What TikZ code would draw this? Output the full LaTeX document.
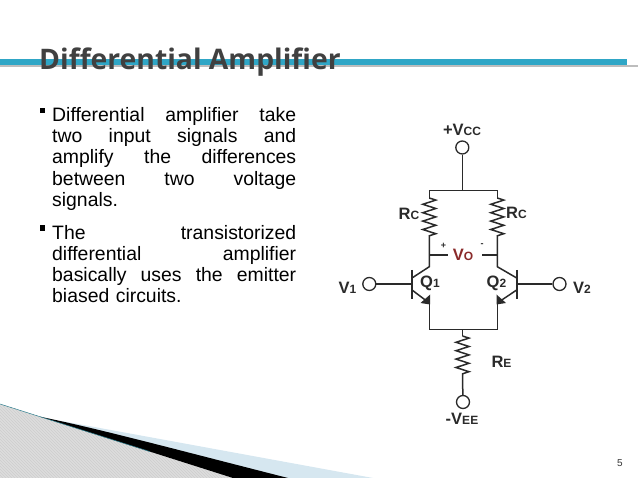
\documentclass[tikz,border=0pt]{standalone}
\usepackage{fontspec}
\setmainfont{Liberation Sans}
\newfontfamily\titlefont{Open Sans}
\usetikzlibrary{decorations.pathmorphing,patterns}
\definecolor{barblue}{HTML}{2FA6C6}
\definecolor{bargrey}{HTML}{BDBDBD}
\definecolor{titlegrey}{HTML}{404040}
\definecolor{paleblue}{HTML}{D6E7F0}
\definecolor{hatchgrey}{HTML}{DDDDDD}
\definecolor{hatchline}{HTML}{CECECE}
\definecolor{tealline}{HTML}{2F7F8F}
\definecolor{vored}{HTML}{8A2A2A}
\definecolor{wire}{HTML}{2A2A2A}
\newcommand{\jline}[1]{\hbox to 244pt{#1}\par}
\newcommand{\subsz}{\fontsize{12}{12}\selectfont}
\tikzset{
  cw/.style={line width=1.5pt,draw=wire},
  term/.style={circle,draw=wire,line width=1.3pt,fill=white,minimum size=13pt,inner sep=0pt},
  res/.style={cw,decorate,decoration={zigzag,segment length=8.4pt,amplitude=6.5pt}},
  lab/.style={font=\bfseries\fontsize{16.5}{17}\selectfont,text=wire,inner sep=0pt,anchor=center},
  bodytext/.style={font=\fontsize{19.4}{21.1}\selectfont,align=left,text width=244pt,inner sep=0pt,anchor=north west},
  bullet/.style={inner sep=0pt,anchor=center}
}
\begin{document}
\begin{tikzpicture}[x=1pt,y=-1pt]
\useasboundingbox (0,0) rectangle (638,478);
% footer
\fill[paleblue] (60,420.7) -- (373,478) -- (233,478) -- cycle;
\fill[hatchgrey] (0,404) -- (233,478) -- (0,478) -- cycle;
\fill[pattern=north west lines,pattern color=hatchline] (0,404) -- (233,478) -- (0,478) -- cycle;
\fill[black] (40,416.7) .. controls (100,429) and (170,448) .. (288,478) -- (233,478) -- cycle;
\draw[tealline,line width=0.5pt] (0,404) -- (150,451.6);
% title bar
\fill[bargrey] (0,65.3) rectangle (638,67.5);
\fill[barblue] (0,59.3) rectangle (627,65.3);
\node[font=\titlefont\bfseries\fontsize{28.3}{32}\selectfont,text=titlegrey,anchor=base west,inner sep=0pt] (title) at (39,70) {Differential Amplifier};
% body
\node[bullet] (b1) at (42.5,110.7) {\rule{5.2pt}{5.2pt}};
\node[bodytext] (p1) at (52,107.5) {%
\jline{Differential\hfill amplifier\hfill take}
\jline{two\hfill input\hfill signals\hfill and}
\jline{amplify\hfill the\hfill differences}
\jline{between\hfill two\hfill voltage}
signals.};
\node[bullet] (b2) at (42.5,228) {\rule{5.2pt}{5.2pt}};
\node[bodytext] (p2) at (52,225) {%
\jline{The\hfill transistorized}
\jline{differential\hfill amplifier}
\jline{basically\hfill uses\hfill the\hfill emitter}
biased circuits.};
% circuit
\node[term] (vcc) at (462.3,147.5) {};
\coordinate (top) at (462.3,190.7);
\coordinate (tl) at (429.3,190.7);
\coordinate (tr) at (497.3,190.7);
\coordinate (rl1) at (429.3,198);
\coordinate (rl2) at (429.3,236);
\coordinate (rr1) at (497.3,198);
\coordinate (rr2) at (497.3,236);
\coordinate (cl) at (429.3,266.7);
\coordinate (cr) at (497.3,266.7);
\coordinate (ol) at (429.3,255);
\coordinate (or) at (497.3,255);
\coordinate (ol2) at (448,255);
\coordinate (or2) at (481.5,255);
\coordinate (bl) at (412,284);
\coordinate (br) at (516.7,284);
\coordinate (blT) at (412,270);
\coordinate (blB) at (412,299);
\coordinate (brT) at (516.7,270);
\coordinate (brB) at (516.7,299);
\coordinate (cbl) at (412,278);
\coordinate (cbr) at (516.7,278);
\coordinate (ebl) at (412,290);
\coordinate (ebr) at (516.7,290);
\coordinate (el) at (429.3,303);
\coordinate (er) at (497.3,303);
\coordinate (bot) at (462.5,329.5);
\coordinate (bl2) at (429.3,329.5);
\coordinate (br2) at (497.3,329.5);
\coordinate (re1) at (462.5,336);
\coordinate (re2) at (462.5,376);
\node[term] (v1) at (369.3,284) {};
\node[term] (v2) at (559.5,284) {};
\node[term] (vee) at (463,402) {};
\draw[cw] (vcc) -- (top);
\draw[cw,line cap=rect] (rl1) -- (tl) -- (tr) -- (rr1);
\draw[res] (rl1) -- (rl2);
\draw[res] (rr1) -- (rr2);
\draw[cw] (rl2) -- (cl) -- (cbl);
\draw[cw] (rr2) -- (cr) -- (cbr);
\draw[cw] (ol) -- (ol2);
\draw[cw] (or) -- (or2);
\draw[line width=1.8pt,draw=wire] (blT) -- (blB);
\draw[line width=1.8pt,draw=wire] (brT) -- (brB);
\draw[cw] (v1) -- (bl);
\draw[cw] (v2) -- (br);
\draw[cw] (ebl) -- (el);
\draw[cw] (ebr) -- (er);
\fill[wire] (430.2,304.5) -- (420.5,303) -- (430.2,294.5) -- cycle;
\fill[wire] (496.5,304.5) -- (506,303) -- (496.5,294.5) -- cycle;
\draw[cw,line join=miter] (el) -- (bl2) -- (br2) -- (er);
\draw[cw] (bot) -- (re1);
\draw[res] (re1) -- (re2);
\draw[cw] (re2) -- (vee);
% labels
\node[lab] (lvcc) at (462,129.5) {+V\subsz CC};
\node[lab] (lrc1) at (409,214) {R\subsz C};
\node[lab] (lrc2) at (516.5,212.5) {R\subsz C};
\node[font=\bfseries\fontsize{9}{9}\selectfont,text=wire,inner sep=0pt] (plus) at (443.5,245.5) {+};
\node[font=\bfseries\fontsize{9}{9}\selectfont,text=wire,inner sep=0pt] (minus) at (482,245.5) {-};
\node[lab,text=vored] (vo) at (463,254.5) {V\subsz O};
\node[lab] (lq1) at (430,283.5) {Q\subsz 1};
\node[lab] (lq2) at (496.5,283.5) {Q\subsz 2};
\node[lab] (lv1) at (347.5,288) {V\subsz 1};
\node[lab] (lv2) at (582,288) {V\subsz 2};
\node[lab] (lre) at (501.5,362) {R\subsz E};
\node[lab] (lvee) at (462,419) {-V\subsz EE};
\node[font=\fontsize{10}{12}\selectfont,text=black!80,inner sep=0pt] (pg) at (620,463) {5};
\end{tikzpicture}
\end{document}
